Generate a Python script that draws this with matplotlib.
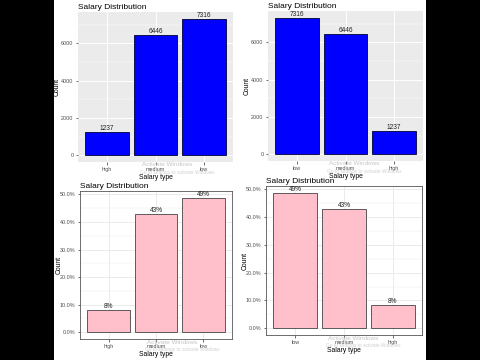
import matplotlib
matplotlib.use("Agg")
import matplotlib.pyplot as plt
from matplotlib.patches import Rectangle
from matplotlib.ticker import FuncFormatter

plt.rcParams["font.family"] = ["Liberation Sans", "DejaVu Sans"]

# data
salary_types = ["high", "medium", "low"]
salary_counts = [1237, 6446, 7316]
sorted_types = ["low", "medium", "high"]
sorted_counts = [7316, 6446, 1237]
count_ticks = [0, 2000, 4000, 6000]
pct_ticks = [0.0, 0.1, 0.2, 0.3, 0.4, 0.5]

total = sum(salary_counts)
salary_pct = [c / total for c in salary_counts]
sorted_pct = [c / total for c in sorted_counts]

fig = plt.figure(figsize=(4.8, 3.6), dpi=100, facecolor="black")
bg = Rectangle((54 / 480, 0), 372 / 480, 1, transform=fig.transFigure,
               facecolor="white", edgecolor="none", zorder=-10)
fig.add_artist(bg)


def add_ax(x0, y0, x1, y1):
    # pixel box, y measured from the top
    return fig.add_axes([x0 / 480, 1 - y1 / 360, (x1 - x0) / 480, (y1 - y0) / 360])


def style(ax, gray):
    ax.set_axisbelow(True)
    if gray:
        ax.set_facecolor("#EBEBEB")
        for s in ax.spines.values():
            s.set_visible(False)
        gc = "white"
    else:
        ax.set_facecolor("white")
        for s in ax.spines.values():
            s.set_color("#555555")
            s.set_linewidth(0.6)
        gc = "#EBEBEB"
    ax.grid(True, which="major", color=gc, linewidth=0.7)
    ax.grid(True, which="minor", axis="y", color=gc, linewidth=0.35)
    ax.tick_params(axis="both", which="major", length=1.8, width=0.5, color="#333333",
                   labelsize=3.9, labelcolor="#4D4D4D", pad=1.5)
    ax.tick_params(axis="both", which="minor", length=0)
    ax.set_xlim(0.4, 3.6)


def labels(ax, box, wm):
    ax.set_title("Salary Distribution", loc="left", fontsize=6, pad=2)
    ax.set_xlabel("Salary type", fontsize=4.9, labelpad=2)
    ax.set_ylabel("Count", fontsize=4.9)
    # "Count" right edge sits about 17 px left of the panel
    ax.yaxis.set_label_coords(-17 / (box[2] - box[0]), 0.5)
    fig.text(wm[0] / 480, 1 - wm[1] / 360, "Activate Windows", fontsize=4.6, color="#C4C4C4",
             ha="left", va="center")
    fig.text((wm[0] - 2) / 480, 1 - (wm[1] + 7) / 360, "Go to settings to activate Windows",
             fontsize=3.4, color="#CFCFCF", ha="left", va="center")


def count_panel(box, cats, vals, wm):
    ax = add_ax(*box)
    style(ax, True)
    pos = [1, 2, 3]
    ax.bar(pos, vals, width=0.9, color="#0000FF", edgecolor="#000033", linewidth=0.6)
    for p, v in zip(pos, vals):
        ax.text(p, v, str(v), ha="center", va="bottom", fontsize=4.7, color="#222222")
    ax.set_xticks(pos)
    ax.set_xticklabels(cats)
    ax.set_yticks(count_ticks)
    ax.set_yticks([1000, 3000, 5000, 7000], minor=True)
    ax.set_ylim(-0.05 * max(vals), 1.05 * max(vals))
    labels(ax, box, wm)
    return ax


def pct_panel(box, cats, vals, wm):
    ax = add_ax(*box)
    style(ax, False)
    pos = [1, 2, 3]
    ax.bar(pos, vals, width=0.9, color="#FFC0CB", edgecolor="#444444", linewidth=0.6)
    for p, v in zip(pos, vals):
        ax.text(p, v, "%d%%" % round(v * 100), ha="center", va="bottom", fontsize=4.7, color="#222222")
    ax.set_xticks(pos)
    ax.set_xticklabels(cats)
    ax.set_yticks(pct_ticks)
    ax.set_yticks([0.05, 0.15, 0.25, 0.35, 0.45], minor=True)
    ax.yaxis.set_major_formatter(FuncFormatter(lambda v, _: "%.1f%%" % (v * 100)))
    ax.set_ylim(-0.05 * max(vals), 1.05 * max(vals))
    labels(ax, box, wm)
    return ax


count_panel((78, 12, 233, 162), salary_types, salary_counts, (142, 165))
count_panel((268, 11, 423, 161), sorted_types, sorted_counts, (329, 164))
pct_panel((80, 191, 232, 339), salary_types, salary_pct, (147, 343))
pct_panel((266, 186, 422, 335), sorted_types, sorted_pct, (328, 338))

fig.savefig("out.png", dpi=100, facecolor="black")
